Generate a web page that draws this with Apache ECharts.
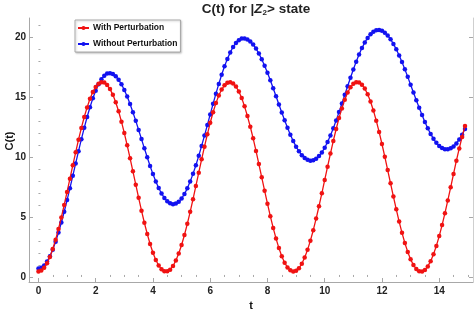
<!DOCTYPE html>
<html>
<head>
<meta charset="utf-8">
<script src="https://cdn.jsdelivr.net/npm/echarts@6/dist/echarts.min.js"></script>
<style>
  html, body { margin: 0; padding: 0; background: #fff; }
  #chart { width: 474px; height: 312px; }
</style>
</head>
<body>
<div id="chart"></div>
<script>
// time grid (step 0.1)
const tValues = [
  0,0.1,0.2,0.3,0.4,0.5,0.6,0.7,0.8,0.9,1,1.1,1.2,1.3,1.4,1.5,1.6,1.7,1.8,1.9,
  2,2.1,2.2,2.3,2.4,2.5,2.6,2.7,2.8,2.9,3,3.1,3.2,3.3,3.4,3.5,3.6,3.7,3.8,3.9,
  4,4.1,4.2,4.3,4.4,4.5,4.6,4.7,4.8,4.9,5,5.1,5.2,5.3,5.4,5.5,5.6,5.7,5.8,5.9,
  6,6.1,6.2,6.3,6.4,6.5,6.6,6.7,6.8,6.9,7,7.1,7.2,7.3,7.4,7.5,7.6,7.7,7.8,7.9,
  8,8.1,8.2,8.3,8.4,8.5,8.6,8.7,8.8,8.9,9,9.1,9.2,9.3,9.4,9.5,9.6,9.7,9.8,9.9,
  10,10.1,10.2,10.3,10.4,10.5,10.6,10.7,10.8,10.9,11,11.1,11.2,11.3,11.4,11.5,11.6,11.7,11.8,11.9,
  12,12.1,12.2,12.3,12.4,12.5,12.6,12.7,12.8,12.9,13,13.1,13.2,13.3,13.4,13.5,13.6,13.7,13.8,13.9,
  14,14.1,14.2,14.3,14.4,14.5,14.6,14.7,14.8,14.9
];

// C(t) with perturbation (red)
const withPert = [
  0.45,0.53,0.76,1.15,1.67,2.33,3.11,4.00,4.97,6.01,
  7.09,8.20,9.31,10.40,11.45,12.43,13.34,14.14,14.86,15.42,
  15.85,16.12,16.24,16.21,16.01,15.67,15.19,14.57,13.82,12.95,
  12.00,10.98,9.91,8.81,7.70,6.60,5.53,4.52,3.59,2.75,
  2.02,1.42,0.96,0.64,0.47,0.47,0.61,0.92,1.37,1.96,
  2.67,3.50,4.43,5.43,6.49,7.59,8.70,9.81,10.87,11.90,
  12.86,13.74,14.50,15.13,15.63,15.99,16.20,16.25,16.14,15.88,
  15.47,14.92,14.23,13.42,12.53,11.56,10.51,9.42,8.31,7.20,
  6.11,5.07,4.09,3.20,2.41,1.73,1.19,0.79,0.55,0.45,
  0.51,0.73,1.10,1.62,2.26,3.03,3.90,4.87,5.90,6.98,
  8.09,9.20,10.29,11.35,12.34,13.25,14.06,14.79,15.38,15.82,
  16.11,16.24,16.22,16.04,15.71,15.24,14.63,13.89,13.04,12.10,
  11.09,10.02,8.92,7.81,6.71,5.64,4.62,3.68,2.83,2.09,
  1.47,1.00,0.66,0.48,0.46,0.59,0.88,1.32,1.89,2.59,
  3.41,4.33,5.32,6.38,7.48,8.59,9.70,10.72,11.68,12.60
];

// C(t) without perturbation (blue)
const withoutPert = [
  0.70,0.77,0.96,1.28,1.72,2.28,2.94,3.70,4.54,5.44,
  6.41,7.41,8.44,9.47,10.49,11.49,12.44,13.34,14.16,14.90,
  15.54,16.07,16.49,16.78,16.97,17.00,16.92,16.74,16.45,16.07,
  15.60,15.05,14.42,13.74,13.02,12.26,11.50,10.73,9.98,9.26,
  8.58,7.97,7.42,6.96,6.59,6.31,6.14,6.07,6.12,6.27,
  6.54,6.92,7.39,7.96,8.60,9.32,10.10,10.93,11.79,12.67,
  13.56,14.44,15.29,16.10,16.87,17.57,18.19,18.73,19.18,19.52,
  19.75,19.88,19.89,19.81,19.64,19.39,19.05,18.64,18.16,17.62,
  17.03,16.40,15.74,15.07,14.39,13.72,13.07,12.45,11.87,11.34,
  10.87,10.48,10.16,9.92,9.77,9.70,9.73,9.86,10.08,10.39,
  10.78,11.26,11.80,12.41,13.06,13.75,14.46,15.19,15.91,16.62,
  17.31,17.96,18.56,19.09,19.56,19.94,20.24,20.45,20.58,20.60,
  20.53,20.37,20.14,19.83,19.44,18.99,18.48,17.92,17.32,16.69,
  16.04,15.39,14.74,14.11,13.50,12.92,12.40,11.93,11.52,11.19,
  10.93,10.75,10.66,10.65,10.73,10.89,11.14,11.47,11.87,12.34
];

const xTicks = [0, 2, 4, 6, 8, 10, 12, 14];
const xMinorTicks = [0.5,1,1.5,2.5,3,3.5,4.5,5,5.5,6.5,7,7.5,8.5,9,9.5,10.5,11,11.5,12.5,13,13.5,14.5,15];
const yTicks = [0, 5, 10, 15, 20];
const yMinorTicks = [1,2,3,4,6,7,8,9,11,12,13,14,16,17,18,19,21];

const seriesNames = ['With Perturbation', 'Without Perturbation'];

const chart = echarts.init(document.getElementById('chart'), null, { renderer: 'canvas' });

const font = 'Liberation Sans, Arial, sans-serif';
const frameColor = '#a8a8a8';
const xMin = -0.33, xMax = 15.18;
const yMin = -0.42, yMax = 21.6;

const option = {
  animation: false,
  backgroundColor: '#fff',
  textStyle: { fontFamily: font },
  title: {
    text: '{a|C(t) for |}{z|Z}{s|2}{a|> state}',
    left: 251,
    textAlign: 'center',
    top: -3,
    textStyle: {
      rich: {
        a: { fontSize: 13.5, fontWeight: 'bold', color: '#222', fontFamily: font },
        z: { fontSize: 13.5, fontWeight: 'bold', fontStyle: 'italic', color: '#222', fontFamily: font },
        s: { fontSize: 8, fontWeight: 'bold', color: '#222', fontFamily: font, padding: [7, 0, 0, 0] }
      }
    }
  },
  legend: {
    data: seriesNames,
    orient: 'vertical',
    left: 75,
    top: 20,
    padding: [3, 3, 3, 2],
    itemGap: 6,
    itemWidth: 11,
    itemHeight: 5,
    backgroundColor: '#fff',
    borderColor: '#999',
    borderWidth: 0.8,
    shadowColor: 'rgba(0,0,0,0.25)',
    shadowBlur: 2,
    shadowOffsetX: 1,
    shadowOffsetY: 1,
    textStyle: { fontSize: 8.5, fontWeight: 'bold', color: '#111', fontFamily: font, lineHeight: 10, padding: [0, 0, 0, -1] }
  },
  grid: { left: 29, right: 1, top: 18, bottom: 30, outerBoundsMode: 'none' },
  xAxis: [
    {
      type: 'value', min: xMin, max: xMax,
      name: 't', nameLocation: 'middle', nameGap: 18, nameMoveOverlap: false,
      nameTextStyle: { fontSize: 11, fontWeight: 'bold', color: '#111', fontFamily: font },
      axisLine: { show: true, onZero: false, lineStyle: { color: frameColor, width: 1 } },
      axisTick: { show: true, inside: true, length: 4, customValues: xTicks, lineStyle: { color: frameColor } },
      axisLabel: { customValues: xTicks, fontSize: 10, fontWeight: 'bold', color: '#222', margin: 4, fontFamily: font },
      splitLine: { show: false }
    },
    {
      type: 'value', min: xMin, max: xMax, position: 'bottom',
      axisLine: { show: false },
      axisTick: { show: true, inside: true, length: 2, customValues: xMinorTicks, lineStyle: { color: frameColor } },
      axisLabel: { show: false },
      splitLine: { show: false }
    }
  ],
  yAxis: [
    {
      type: 'value', min: yMin, max: yMax,
      name: 'C(t)', nameLocation: 'middle', nameGap: 14, nameRotate: 90, nameMoveOverlap: false,
      nameTextStyle: { fontSize: 11, fontWeight: 'bold', color: '#111', fontFamily: font, padding: [0, 0, 0, 18] },
      axisLine: { show: true, onZero: false, lineStyle: { color: frameColor, width: 1 } },
      axisTick: { show: true, inside: true, length: 4, customValues: yTicks, lineStyle: { color: frameColor } },
      axisLabel: { customValues: yTicks, fontSize: 10, fontWeight: 'bold', color: '#222', margin: 3, fontFamily: font },
      splitLine: { show: false }
    },
    {
      type: 'value', min: yMin, max: yMax, position: 'left',
      axisLine: { show: false },
      axisTick: { show: true, inside: true, length: 2, customValues: yMinorTicks, lineStyle: { color: frameColor } },
      axisLabel: { show: false },
      splitLine: { show: false }
    },
    {
      type: 'value', min: yMin, max: yMax, position: 'right',
      axisLine: { show: true, onZero: false, lineStyle: { color: '#cfcfcf', width: 1 } },
      axisTick: { show: true, inside: true, length: 4, customValues: yTicks, lineStyle: { color: frameColor } },
      axisLabel: { show: false },
      splitLine: { show: false }
    }
  ],
  series: [
    {
      name: seriesNames[0],
      type: 'line',
      data: withPert.map((v, i) => [tValues[i], v]),
      symbol: 'circle',
      symbolSize: 4.5,
      showAllSymbol: true,
      itemStyle: { color: '#f01212' },
      lineStyle: { color: '#f01212', width: 1.3 },
      z: 3
    },
    {
      name: seriesNames[1],
      type: 'line',
      data: withoutPert.map((v, i) => [tValues[i], v]),
      symbol: 'circle',
      symbolSize: 4.5,
      showAllSymbol: true,
      itemStyle: { color: '#1212f0' },
      lineStyle: { color: '#1212f0', width: 1.3 },
      z: 2
    }
  ]
};

chart.setOption(option);
</script>
</body>
</html>
